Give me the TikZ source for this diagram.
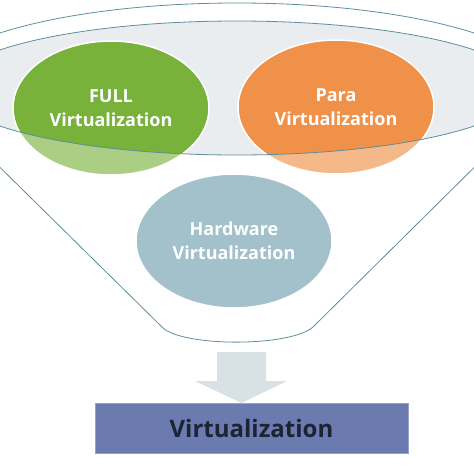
\documentclass[tikz,border=0pt]{standalone}
\usepackage{fontspec}
\setmainfont{Open Sans}
\usetikzlibrary{shapes.geometric, positioning}
\definecolor{rimline}{HTML}{5E8E9C}
\definecolor{mouthgray}{HTML}{E9EDF0}
\definecolor{fullgreen}{HTML}{78B23B}
\definecolor{fullgreenlt}{HTML}{AACF84}
\definecolor{paraorange}{HTML}{F0914A}
\definecolor{paraorangelt}{HTML}{F5B888}
\definecolor{hwblue}{HTML}{A3C1CB}
\definecolor{arrowgray}{HTML}{D8E1E4}
\definecolor{boxblue}{HTML}{6B7BB0}
\definecolor{boxtext}{HTML}{1B2433}
\tikzset{
x=1pt, y=-1pt, % pixel coordinates, y downwards
rim/.style={draw=rimline, line width=0.8pt}, % funnel outline
kind/.style={ellipse, inner sep=0pt, minimum width=196pt, minimum height=134pt,
  draw=white, line width=1.5pt, text=white, align=center,
  font=\fontsize{18}{24}\selectfont\bfseries}, % the three virtualization kinds
}

\begin{document}
\begin{tikzpicture}
        \useasboundingbox (0,0) rectangle (474,474);
        \begin{scope}
        \clip (0,0) rectangle (474,474);
        % funnel body
        \draw[rim] (-74,88) arc [start angle=180, end angle=360, x radius=311, y radius=85];
        \draw[rim] (-40,128) -- (163,328) .. controls (185,347) and (290,347) .. (313,327) -- (514,128);
        \fill[mouthgray] (237,88) ellipse [x radius=288, y radius=67];
        \end{scope}

        \node[kind, fill=fullgreenlt] (full) at (111,108) {};
        \node[kind, fill=paraorangelt] (para) at (336,107) {};
        \node[kind, fill=hwblue] (hw) at (234,241) {Hardware\\Virtualization};

        \begin{scope}
        \clip (237,88) ellipse [x radius=288, y radius=67];
        \fill[fullgreen] (full.center) ellipse [x radius=97, y radius=66];
        \fill[paraorange] (para.center) ellipse [x radius=97, y radius=66];
        \end{scope}
        \begin{scope}
        \clip (0,0) rectangle (474,474);
        \draw[rim] (237,88) ellipse [x radius=288, y radius=67];
        \end{scope}

        \node[kind, draw=none, fill=none] at (full.center) {FULL\\Virtualization};
        \node[kind, draw=none, fill=none] at (para.center) {Para\\Virtualization};

        % result box and arrow into it
        \node[draw=boxblue!70!white, line width=0.8pt, fill=boxblue, minimum width=313pt, minimum height=50pt,
          text=boxtext, font=\fontsize{24}{28}\selectfont\bfseries] (result) at (251.5,428) {Virtualization};
        \fill[arrowgray] (217,352) -- (266,352) -- (266,381) -- (287,381) -- (241.5,403) -- (195,381) -- (217,381) -- cycle;
    \end{tikzpicture}
\end{document}
